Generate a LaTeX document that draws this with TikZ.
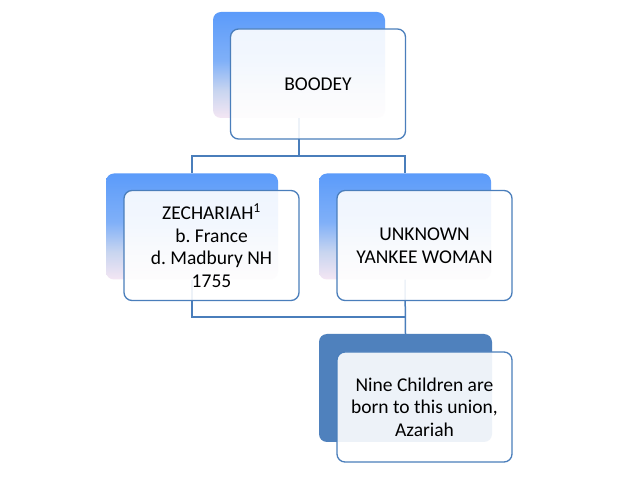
\documentclass[tikz,border=0pt]{standalone}
\usepackage{fontspec}
\setmainfont{Carlito}
\frenchspacing
\definecolor{lineblue}{HTML}{4A7EBB}
\definecolor{darkback}{HTML}{4F81BD}
\definecolor{gtop}{HTML}{5B9BFA}
\definecolor{gmid}{HTML}{80B0F8}
\definecolor{glow}{HTML}{C8D5F0}
\definecolor{gbot}{HTML}{F4E6F3}
\pgfdeclareverticalshading{backgrad}{100bp}{color(0bp)=(gbot); color(25bp)=(gbot); color(38bp)=(glow); color(52bp)=(gmid); color(75bp)=(gtop); color(100bp)=(gtop)}
\tikzset{
  backbox/.style={rectangle, rounded corners=8pt, draw=none, shading=backgrad, minimum width=172pt, minimum height=106pt, inner sep=0pt},
  darkbox/.style={rectangle, rounded corners=8pt, draw=none, fill=darkback, minimum width=173pt, minimum height=108pt, inner sep=0pt},
  frontbox/.style={rectangle, rounded corners=8pt, draw=lineblue, line width=1.3pt, fill=white, fill opacity=0.9, text opacity=1, minimum width=175pt, minimum height=110pt, inner sep=0pt, align=center, font=\fontsize{19.5pt}{22.5pt}\selectfont},
  conn/.style={draw=lineblue, line width=1.5pt}
}
\begin{document}
\begin{tikzpicture}[x=1pt,y=-1pt]
\useasboundingbox[fill=white] (0,0) rectangle (638,478);
% back boxes
\node[backbox] (b0) at (299,65) {};
\node[backbox] (b1) at (192,226.5) {};
\node[backbox] (b2) at (405,226.5) {};
\node[darkbox] (b3) at (405.5,388) {};
% connectors
\coordinate (j0) at (299,156);
\coordinate (j1) at (192,156);
\coordinate (j2) at (405,156);
\coordinate (k1) at (192,317);
\coordinate (k2) at (405,317);
\draw[conn] (b0.south) -- (j0) -- (j1) -- (b1.north);
\draw[conn] (j0) -- (j2) -- (b2.north);
\draw[conn] (b1.south) -- (k1) -- (k2);
\draw[conn] (b2.south) -- (b3.north);
% front boxes
\node[frontbox] (f0) at (318,84) {BOODEY};
\node[frontbox] (f1) at (211.5,245.5) {ZECHARIAH\textsuperscript{1}\\b. France\\d. Madbury NH\\1755};
\node[frontbox] (f2) at (424.5,245.5) {UNKNOWN\\YANKEE WOMAN};
\node[frontbox] (f3) at (424.5,407) {Nine Children are\\born to this union,\\Azariah};
\end{tikzpicture}
\end{document}
